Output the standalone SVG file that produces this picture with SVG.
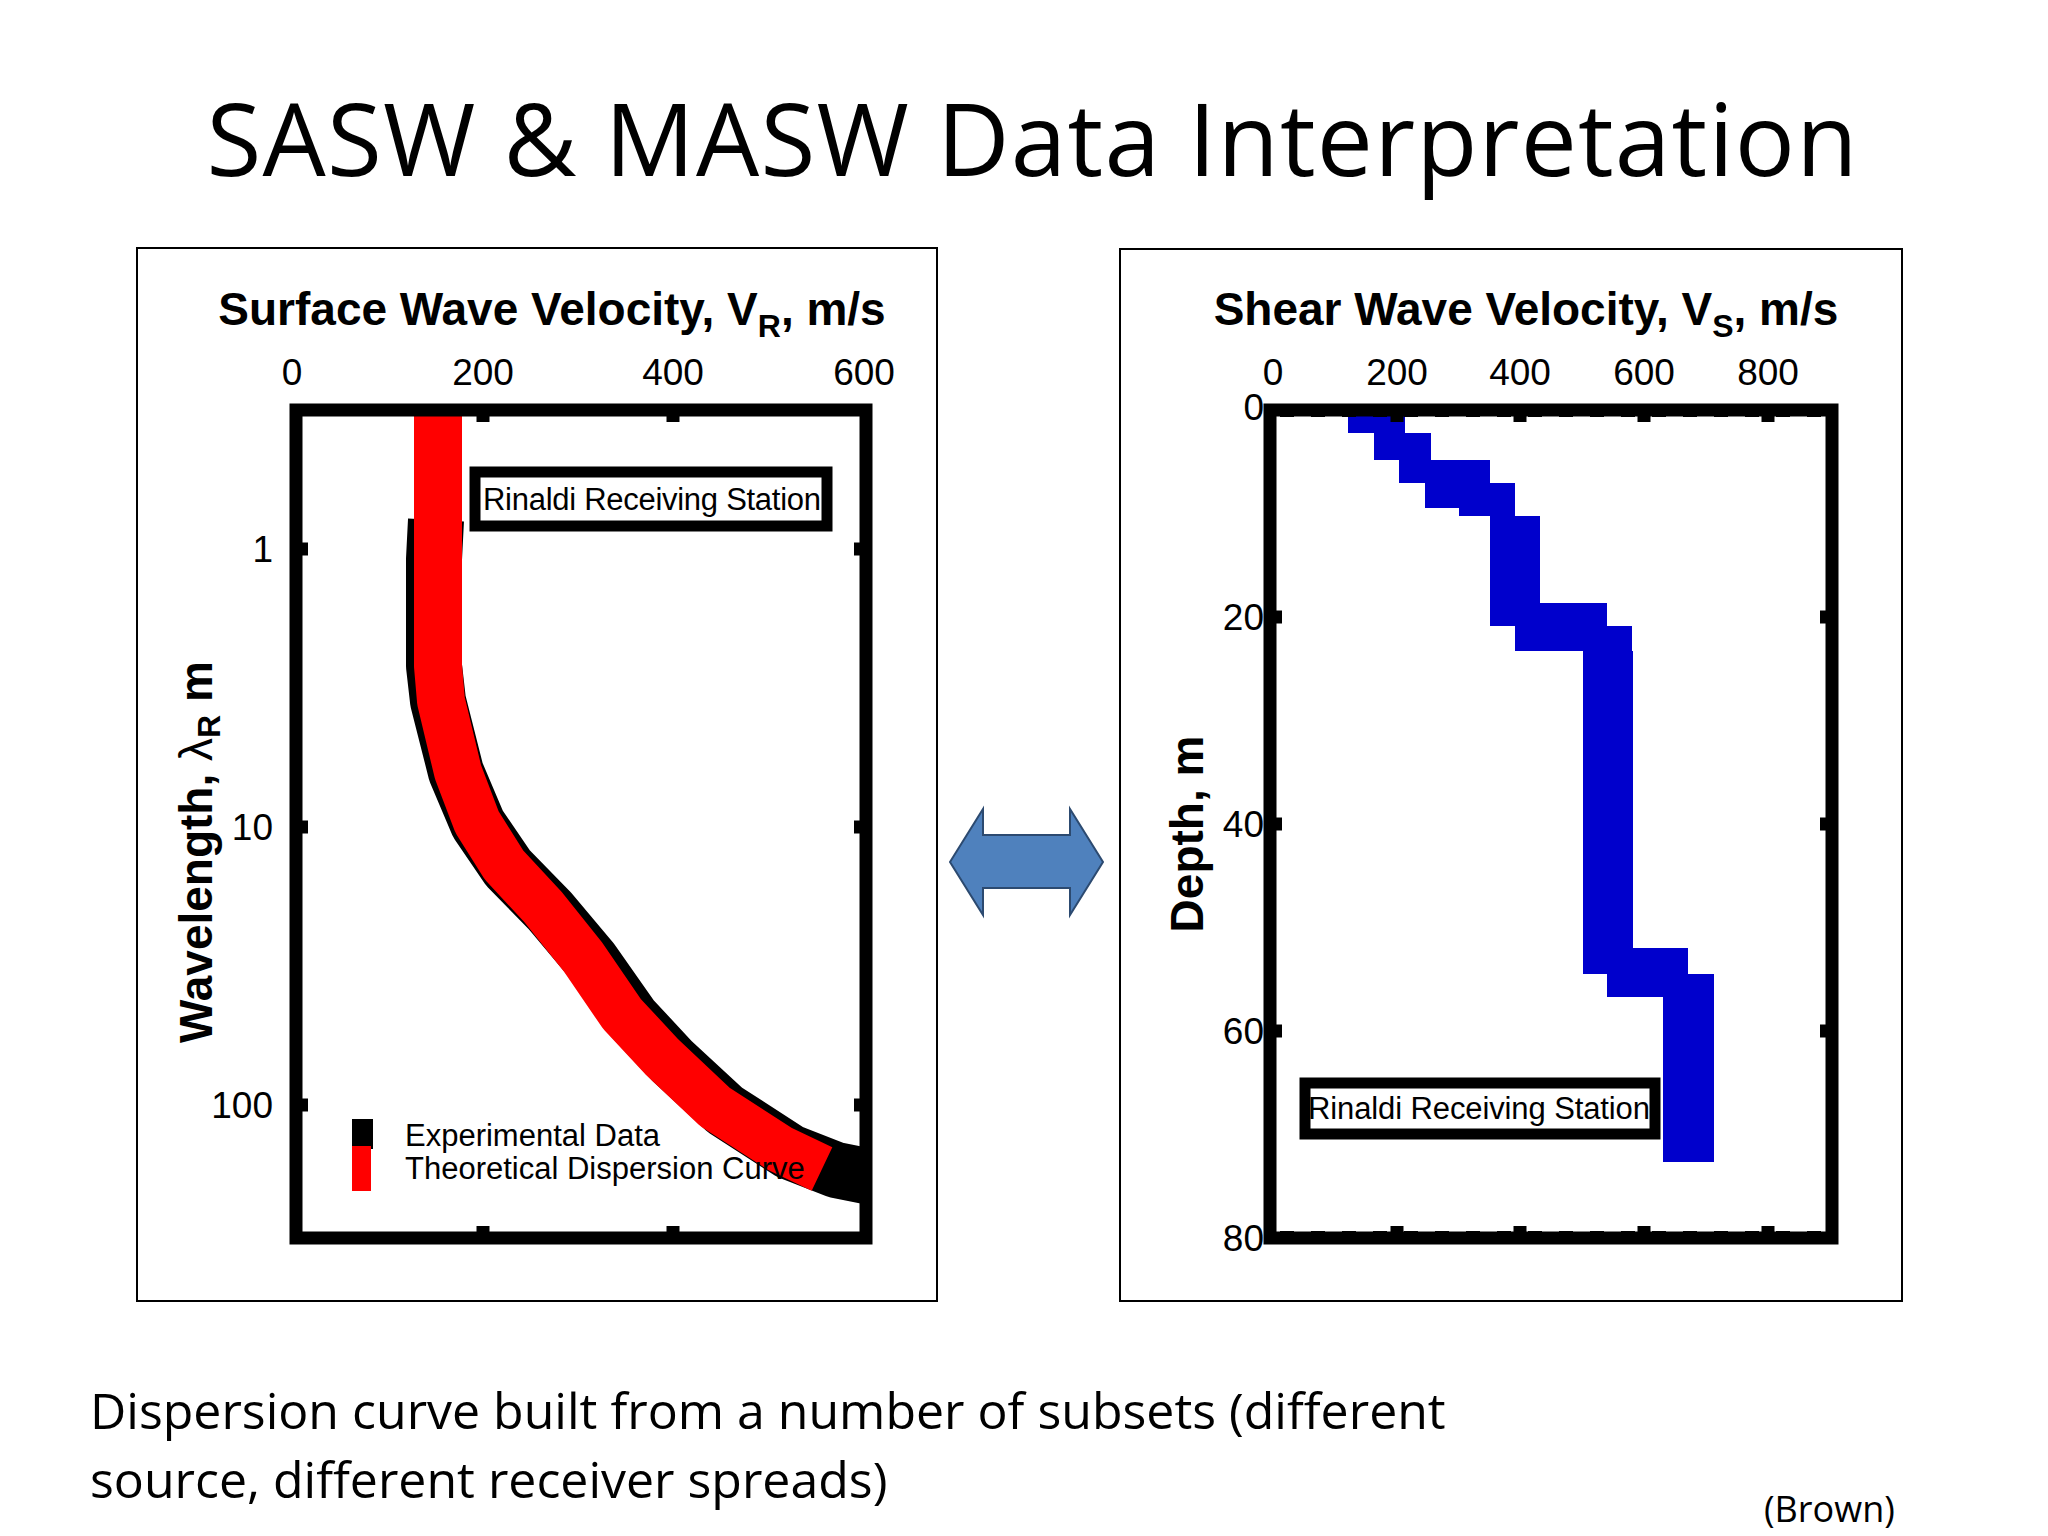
<svg xmlns="http://www.w3.org/2000/svg" width="2048" height="1536" viewBox="0 0 2048 1536">
<style>
.frame{fill:#fff;stroke:#000;stroke-width:2}
.axbox{fill:none;stroke:#000;stroke-width:13}
.tick{stroke:#000;stroke-width:13}
.mtick{stroke:#000;stroke-width:6}
.lab{font-family:"Liberation Sans",Arial,sans-serif;font-size:37px}
.ttl{font-family:"Liberation Sans",Arial,sans-serif;font-size:46px;font-weight:bold}
.box{fill:#fff;stroke:#000;stroke-width:11}
.boxt{font-family:"Liberation Sans",Arial,sans-serif;font-size:31px}
.slide{font-family:"Open Sans",sans-serif}
.blue{fill:#0000cc}
</style>
<rect width="2048" height="1536" fill="#fff"/>
<text class="slide" x="1032" y="176" font-size="100" text-anchor="middle" textLength="1651">SASW &amp; MASW Data Interpretation</text>

<g id="left-plot">
<rect class="frame" x="137" y="248" width="800" height="1053"/>
<text class="ttl" x="552" y="325" text-anchor="middle">Surface Wave Velocity, V<tspan font-size="32" dy="12">R</tspan><tspan dy="-12">, m/s</tspan></text>
<g class="lab" text-anchor="middle">
<text x="292" y="385">0</text><text x="483" y="385">200</text><text x="673" y="385">400</text><text x="864" y="385">600</text>
</g>
<g class="lab" text-anchor="end">
<text x="273" y="562">1</text><text x="273" y="840">10</text><text x="273" y="1118">100</text>
</g>
<text class="ttl" transform="translate(212,1043) rotate(-90)">Wavelength, <tspan font-weight="normal">λ</tspan><tspan font-size="32" dy="8">R</tspan><tspan dy="-8"> m</tspan></text>
<polyline fill="none" stroke="#000" stroke-width="56" stroke-linejoin="bevel" points="436,520 434,559 434,666 438,701 456,772 478,824 508,868 550,911 592,961 632,1018 672,1061 725,1110 790,1152 836,1170 866,1176"/>
<polyline fill="none" stroke="#f00" stroke-width="48" stroke-linejoin="bevel" points="438,410 438,559 438,666 441,701 458,772 477,822 504,865 543,907 583,957 622,1014 662,1057 715,1107 780,1149 822,1169"/>
<rect class="axbox" x="296" y="410" width="570" height="828"/>
<g class="tick">
<line x1="483" y1="404" x2="483" y2="422"/><line x1="673" y1="404" x2="673" y2="422"/>
<line x1="483" y1="1226" x2="483" y2="1244"/><line x1="673" y1="1226" x2="673" y2="1244"/>
<line x1="290" y1="549" x2="308" y2="549"/><line x1="290" y1="827" x2="308" y2="827"/><line x1="290" y1="1105" x2="308" y2="1105"/>
<line x1="854" y1="549" x2="872" y2="549"/><line x1="854" y1="827" x2="872" y2="827"/><line x1="854" y1="1105" x2="872" y2="1105"/>
</g>
<g class="mtick">
<line x1="388" y1="404" x2="388" y2="416"/><line x1="578" y1="404" x2="578" y2="416"/><line x1="768" y1="404" x2="768" y2="416"/>
<line x1="388" y1="1232" x2="388" y2="1244"/><line x1="578" y1="1232" x2="578" y2="1244"/><line x1="768" y1="1232" x2="768" y2="1244"/>
</g>
<rect class="box" x="475" y="472" width="352" height="54"/>
<text class="boxt" x="483" y="510" textLength="338">Rinaldi Receiving Station</text>
<rect x="352" y="1119" width="21" height="30" fill="#000"/>
<rect x="352" y="1146" width="19" height="45" fill="#f00"/>
<text class="boxt" x="405" y="1146" font-size="26">Experimental Data</text>
<text class="boxt" x="405" y="1179" font-size="26">Theoretical Dispersion Curve</text>
</g>

<g id="connectors">
<polygon points="950,862 983,809 983,835 1070,835 1070,809 1103,862 1070,915 1070,888 983,888 983,915" fill="#4f81bd" stroke="#2c4a70" stroke-width="2"/>
</g>

<g id="right-plot">
<rect class="frame" x="1120" y="249" width="782" height="1052"/>
<text class="ttl" x="1526" y="325" text-anchor="middle">Shear Wave Velocity, V<tspan font-size="32" dy="12">S</tspan><tspan dy="-12">, m/s</tspan></text>
<g class="lab" text-anchor="middle">
<text x="1273" y="385">0</text><text x="1397" y="385">200</text><text x="1520" y="385">400</text><text x="1644" y="385">600</text><text x="1768" y="385">800</text>
</g>
<g class="lab" text-anchor="end">
<text x="1264" y="420">0</text><text x="1264" y="630">20</text><text x="1264" y="837">40</text><text x="1264" y="1044">60</text><text x="1264" y="1251">80</text>
</g>
<text class="ttl" transform="translate(1203,834) rotate(-90)" text-anchor="middle">Depth, m</text>
<g class="blue">
<rect x="1348" y="410" width="57" height="23"/>
<rect x="1374" y="433" width="57" height="27"/>
<rect x="1399" y="460" width="91" height="23"/>
<rect x="1425" y="483" width="90" height="25"/>
<rect x="1459" y="508" width="56" height="8"/>
<rect x="1490" y="483" width="25" height="120"/>
<rect x="1515" y="516" width="25" height="87"/>
<rect x="1490" y="603" width="117" height="23"/>
<rect x="1515" y="626" width="117" height="25"/>
<rect x="1583" y="651" width="50" height="297"/>
<rect x="1583" y="948" width="105" height="26"/>
<rect x="1607" y="974" width="107" height="23"/>
<rect x="1663" y="997" width="51" height="165"/>
</g>
<rect class="axbox" x="1270" y="410" width="562" height="828"/>
<g class="tick">
<line x1="1397" y1="404" x2="1397" y2="422"/><line x1="1520" y1="404" x2="1520" y2="422"/><line x1="1644" y1="404" x2="1644" y2="422"/><line x1="1768" y1="404" x2="1768" y2="422"/>
<line x1="1397" y1="1226" x2="1397" y2="1244"/><line x1="1520" y1="1226" x2="1520" y2="1244"/><line x1="1644" y1="1226" x2="1644" y2="1244"/><line x1="1768" y1="1226" x2="1768" y2="1244"/>
<line x1="1264" y1="617" x2="1282" y2="617"/><line x1="1264" y1="824" x2="1282" y2="824"/><line x1="1264" y1="1031" x2="1282" y2="1031"/>
<line x1="1820" y1="617" x2="1838" y2="617"/><line x1="1820" y1="824" x2="1838" y2="824"/><line x1="1820" y1="1031" x2="1838" y2="1031"/>
</g>
<line x1="1280" y1="414" x2="1826" y2="414" stroke="#000" stroke-width="6" stroke-dasharray="14,17"/>
<line x1="1280" y1="1234" x2="1826" y2="1234" stroke="#000" stroke-width="6" stroke-dasharray="14,17"/>
<rect class="box" x="1305" y="1083" width="350" height="51"/>
<text class="boxt" x="1308" y="1119" textLength="342">Rinaldi Receiving Station</text>
</g>

<text class="slide" x="90" y="1429" font-size="50">Dispersion curve built from a number of subsets (different</text>
<text class="slide" x="90" y="1498" font-size="50">source, different receiver spreads)</text>
<text class="slide" x="1764" y="1522" font-size="36">(Brown)</text>
</svg>
